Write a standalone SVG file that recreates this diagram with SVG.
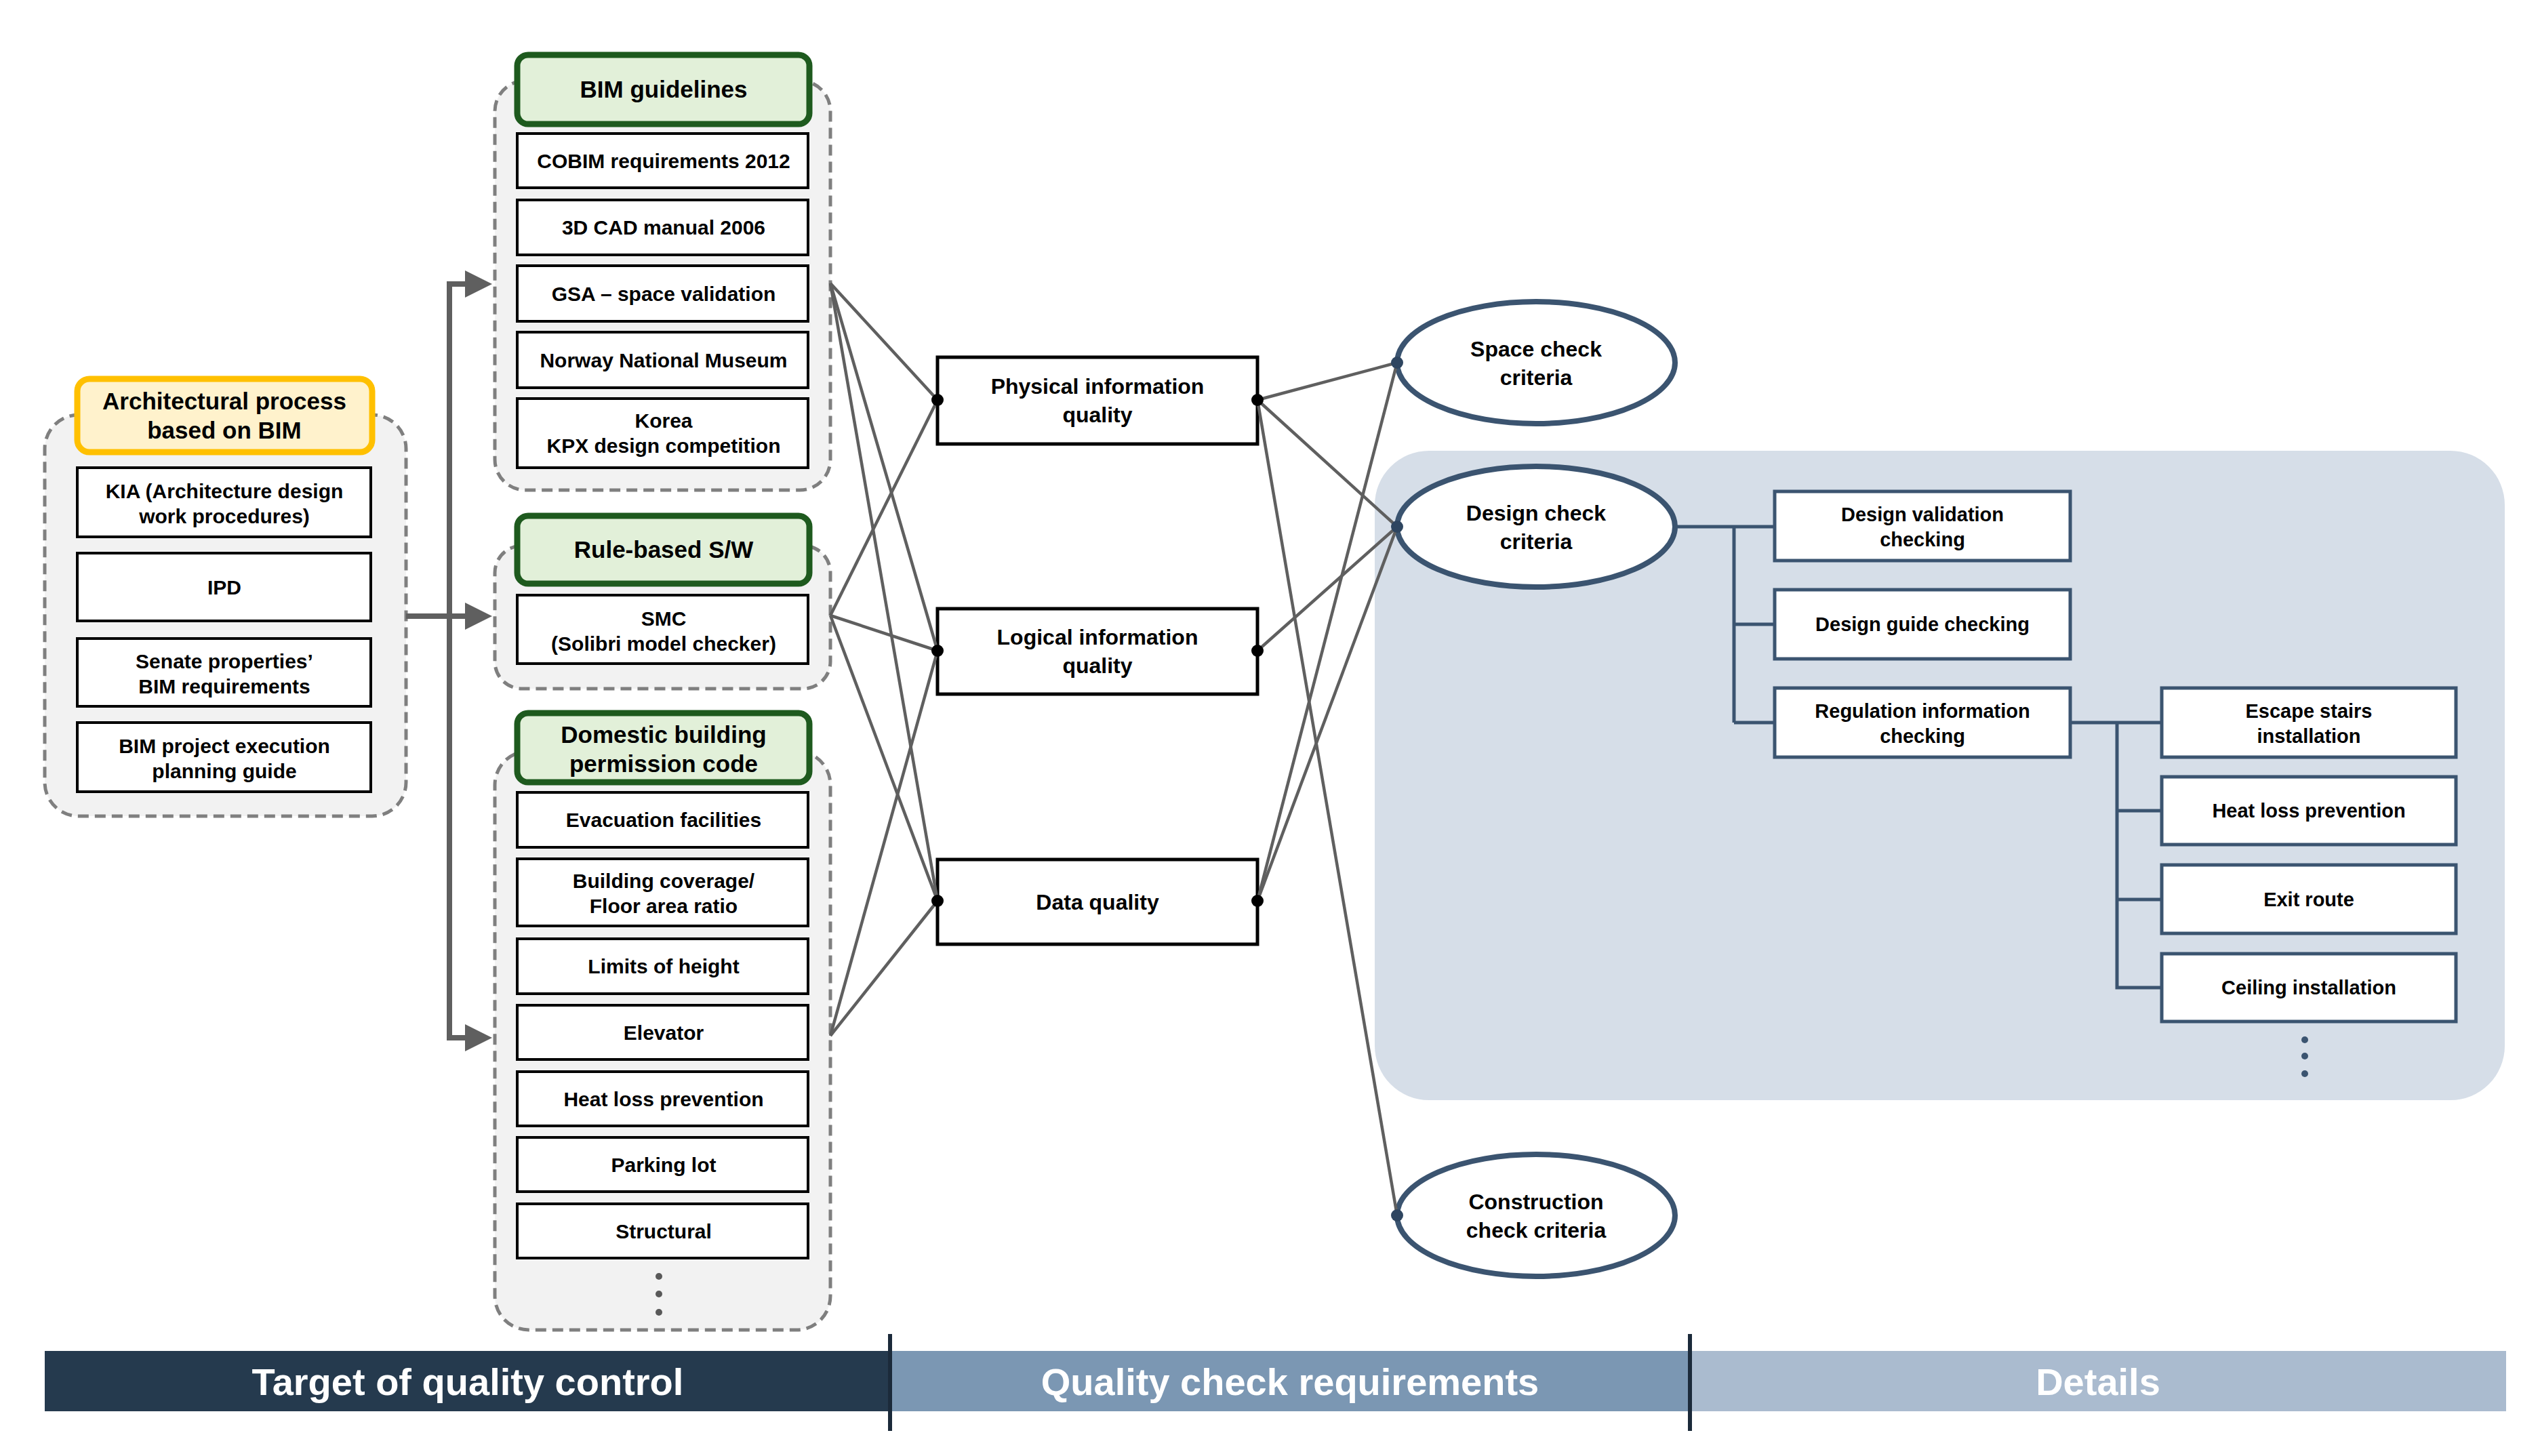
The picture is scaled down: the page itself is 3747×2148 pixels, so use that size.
<svg xmlns="http://www.w3.org/2000/svg" width="3747" height="2148" viewBox="0 0 3747 2148">
<style>
text{font-family:"Liberation Sans",Arial,sans-serif;font-weight:bold;text-anchor:middle;fill:#000}
.grp{fill:#f2f2f2;stroke:#7f7f7f;stroke-width:5;stroke-dasharray:16 9}
.hdr{fill:#e2f0d9;stroke:#1e5a1e;stroke-width:9}
.item{fill:#fff;stroke:#000;stroke-width:4}
.it{font-size:30px}
.ht{font-size:35px}
.mid{fill:#fff;stroke:#000;stroke-width:5}
.ell{fill:#fff;stroke:#3b5470;stroke-width:8}
.rb{fill:#fff;stroke:#3b5470;stroke-width:5}
.rt{font-size:29px}
.con line{stroke:#5f5f5f;stroke-width:4.5}
.tree{stroke:#3b5470;stroke-width:5;fill:none}
.bar{font-family:"Liberation Sans Narrow","Liberation Sans",Arial,sans-serif;font-size:56px;fill:#fff}
</style>
<defs>
<marker id="ah" markerWidth="5" markerHeight="5" refX="4" refY="2.5" orient="auto" markerUnits="strokeWidth"><path d="M0,0 L5,2.5 L0,5z" fill="#5f5f5f"/></marker>
</defs>
<rect x="0" y="0" width="3747" height="2148" fill="#fff"/>
<!-- details panel -->
<rect x="2028" y="665" width="1667" height="958" rx="80" fill="#d6dee8"/>

<!-- left group -->
<g id="arch">
<rect class="grp" x="66" y="612" width="533" height="592" rx="50"/>
<rect x="114" y="559" width="435" height="108" rx="18" fill="#fff2cc" stroke="#ffc000" stroke-width="9"/>
<text class="ht" x="331" y="604">Architectural process</text>
<text class="ht" x="331" y="647">based on BIM</text>
</g>
<g id="kia"><rect class="item" x="114" y="690" width="433" height="102"/><text class="it" x="331" y="735">KIA (Architecture design</text><text class="it" x="331" y="772">work procedures)</text></g>
<g id="ipd"><rect class="item" x="114" y="816" width="433" height="100"/><text class="it" x="331" y="877">IPD</text></g>
<g id="senate"><rect class="item" x="114" y="942" width="433" height="100"/><text class="it" x="331" y="986">Senate properties’</text><text class="it" x="331" y="1023">BIM requirements</text></g>
<g id="bimpeg"><rect class="item" x="114" y="1066" width="433" height="102"/><text class="it" x="331" y="1111">BIM project execution</text><text class="it" x="331" y="1148">planning guide</text></g>

<!-- BIM guidelines group -->
<g id="bimguide">
<rect class="grp" x="730" y="119" width="495" height="604" rx="45"/>
<rect class="hdr" x="763" y="81" width="431" height="102" rx="16"/>
<text class="ht" x="979" y="144">BIM guidelines</text>
</g>
<g id="cobim"><rect class="item" x="763" y="197" width="429" height="80"/><text class="it" x="979" y="248">COBIM requirements 2012</text></g>
<g id="cad"><rect class="item" x="763" y="295" width="429" height="81"/><text class="it" x="979" y="346">3D CAD manual 2006</text></g>
<g id="gsa"><rect class="item" x="763" y="392" width="429" height="82"/><text class="it" x="979" y="444">GSA – space validation</text></g>
<g id="norway"><rect class="item" x="763" y="490" width="429" height="82"/><text class="it" x="979" y="542">Norway National Museum</text></g>
<g id="korea"><rect class="item" x="763" y="588" width="429" height="102"/><text class="it" x="979" y="631">Korea</text><text class="it" x="979" y="668">KPX design competition</text></g>

<!-- Rule-based group -->
<g id="rule">
<rect class="grp" x="730" y="805" width="495" height="211" rx="40"/>
<rect class="hdr" x="763" y="761" width="431" height="100" rx="16"/>
<text class="ht" x="979" y="823">Rule-based S/W</text>
</g>
<g id="smc"><rect class="item" x="763" y="878" width="429" height="101"/><text class="it" x="979" y="923">SMC</text><text class="it" x="979" y="960">(Solibri model checker)</text></g>

<!-- Domestic group -->
<g id="domestic">
<rect class="grp" x="730" y="1108" width="495" height="854" rx="50"/>
<rect class="hdr" x="763" y="1052" width="431" height="102" rx="16"/>
<text class="ht" x="979" y="1096">Domestic building</text>
<text class="ht" x="979" y="1139">permission code</text>
<circle cx="972" cy="1883" r="5" fill="#595959"/><circle cx="972" cy="1909" r="5" fill="#595959"/><circle cx="972" cy="1936" r="5" fill="#595959"/>
</g>
<g id="evac"><rect class="item" x="763" y="1169" width="429" height="81"/><text class="it" x="979" y="1220">Evacuation facilities</text></g>
<g id="coverage"><rect class="item" x="763" y="1267" width="429" height="99"/><text class="it" x="979" y="1310">Building coverage/</text><text class="it" x="979" y="1347">Floor area ratio</text></g>
<g id="height"><rect class="item" x="763" y="1385" width="429" height="81"/><text class="it" x="979" y="1436">Limits of height</text></g>
<g id="elevator"><rect class="item" x="763" y="1483" width="429" height="80"/><text class="it" x="979" y="1534">Elevator</text></g>
<g id="heatloss1"><rect class="item" x="763" y="1581" width="429" height="80"/><text class="it" x="979" y="1632">Heat loss prevention</text></g>
<g id="parking"><rect class="item" x="763" y="1678" width="429" height="80"/><text class="it" x="979" y="1729">Parking lot</text></g>
<g id="structural"><rect class="item" x="763" y="1776" width="429" height="80"/><text class="it" x="979" y="1827">Structural</text></g>

<!-- middle nodes -->
<g id="physical"><rect class="mid" x="1383" y="527" width="472" height="128"/><text x="1619" y="581" font-size="32">Physical information</text><text x="1619" y="623" font-size="32">quality</text></g>
<g id="logical"><rect class="mid" x="1383" y="898" width="472" height="126"/><text x="1619" y="951" font-size="32">Logical information</text><text x="1619" y="993" font-size="32">quality</text></g>
<g id="data"><rect class="mid" x="1383" y="1268" width="472" height="125"/><text x="1619" y="1342" font-size="32">Data quality</text></g>

<!-- ellipses -->
<g id="space"><ellipse class="ell" cx="2266" cy="535" rx="205" ry="90"/><text x="2266" y="526" font-size="32">Space check</text><text x="2266" y="568" font-size="32">criteria</text></g>
<g id="design"><ellipse class="ell" cx="2266" cy="777" rx="205" ry="89"/><text x="2266" y="768" font-size="32">Design check</text><text x="2266" y="810" font-size="32">criteria</text></g>
<g id="construction"><ellipse class="ell" cx="2266" cy="1793" rx="205" ry="90"/><text x="2266" y="1784" font-size="32">Construction</text><text x="2266" y="1826" font-size="32">check criteria</text></g>

<!-- connectors -->
<g id="connectors">
<g class="con">
<line x1="1225" y1="418" x2="1383" y2="590"/>
<line x1="1225" y1="418" x2="1383" y2="960"/>
<line x1="1225" y1="418" x2="1383" y2="1329"/>
<line x1="1225" y1="908" x2="1383" y2="590"/>
<line x1="1225" y1="908" x2="1383" y2="960"/>
<line x1="1225" y1="908" x2="1383" y2="1329"/>
<line x1="1225" y1="1528" x2="1383" y2="960"/>
<line x1="1225" y1="1528" x2="1383" y2="1329"/>
<line x1="1855" y1="590" x2="2061" y2="535"/>
<line x1="1855" y1="590" x2="2061" y2="777"/>
<line x1="1855" y1="590" x2="2061" y2="1793"/>
<line x1="1855" y1="960" x2="2061" y2="777"/>
<line x1="1855" y1="1329" x2="2061" y2="535"/>
<line x1="1855" y1="1329" x2="2061" y2="777"/>
</g>
<g fill="#000">
<circle cx="1383" cy="590" r="9"/><circle cx="1855" cy="590" r="9"/>
<circle cx="1383" cy="960" r="9"/><circle cx="1855" cy="960" r="9"/>
<circle cx="1383" cy="1329" r="9"/><circle cx="1855" cy="1329" r="9"/>
</g>
<g fill="#2e4560">
<circle cx="2061" cy="535" r="9"/><circle cx="2061" cy="777" r="9"/><circle cx="2061" cy="1793" r="9"/>
</g>
<g stroke="#5f5f5f" stroke-width="8" fill="none">
<line x1="599" y1="909" x2="718" y2="909" marker-end="url(#ah)"/>
<path d="M663,1531 V419 H718" marker-end="url(#ah)"/>
<path d="M663,909 V1531 H718" marker-end="url(#ah)"/>
</g>
<path class="tree" d="M2471,777 H2618 M2558,777 V1066 M2558,921 H2618 M2558,1066 H2618"/>
<path class="tree" d="M3054,1066 H3189 M3123,1066 V1457 H3189 M3123,1196 H3189 M3123,1327 H3189"/>
</g>

<!-- right boxes -->
<g id="dval"><rect class="rb" x="2618" y="725" width="436" height="102"/><text class="rt" x="2836" y="769">Design validation</text><text class="rt" x="2836" y="806">checking</text></g>
<g id="dguide"><rect class="rb" x="2618" y="870" width="436" height="102"/><text class="rt" x="2836" y="931">Design guide checking</text></g>
<g id="reg"><rect class="rb" x="2618" y="1015" width="436" height="102"/><text class="rt" x="2836" y="1059">Regulation information</text><text class="rt" x="2836" y="1096">checking</text></g>
<g id="escape"><rect class="rb" x="3189" y="1015" width="434" height="102"/><text class="rt" x="3406" y="1059">Escape stairs</text><text class="rt" x="3406" y="1096">installation</text></g>
<g id="heatloss2"><rect class="rb" x="3189" y="1146" width="434" height="100"/><text class="rt" x="3406" y="1206">Heat loss prevention</text></g>
<g id="exit"><rect class="rb" x="3189" y="1276" width="434" height="101"/><text class="rt" x="3406" y="1337">Exit route</text></g>
<g id="ceiling"><rect class="rb" x="3189" y="1407" width="434" height="100"/><text class="rt" x="3406" y="1467">Ceiling installation</text></g>
<g fill="#3b5470"><circle cx="3400" cy="1534" r="5"/><circle cx="3400" cy="1558" r="5"/><circle cx="3400" cy="1584" r="5"/></g>

<!-- bottom bar -->
<g id="bar">
<rect x="66" y="1993" width="1247" height="89" fill="#253a4e"/>
<rect x="1313" y="1993" width="1180" height="89" fill="#7b97b3"/>
<rect x="2493" y="1993" width="1204" height="89" fill="#aabbcf"/>
<line x1="1313" y1="1968" x2="1313" y2="2111" stroke="#1b2a3a" stroke-width="6"/>
<line x1="2493" y1="1968" x2="2493" y2="2111" stroke="#1b2a3a" stroke-width="6"/>
<text class="bar" x="690" y="2058">Target of quality control</text>
<text class="bar" x="1903" y="2058">Quality check requirements</text>
<text class="bar" x="3095" y="2058">Details</text>
</g>
</svg>
